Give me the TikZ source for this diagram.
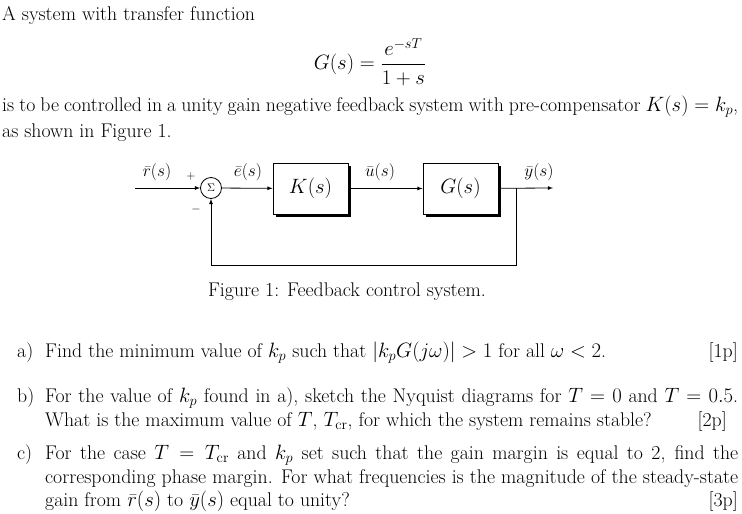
\documentclass[tikz,border=0pt]{standalone}
\usepackage{amsmath}
\newcommand{\lblsz}{\fontsize{19}{22}\selectfont}
\begin{document}
\begin{tikzpicture}[x=1pt,y=-1pt,
  txt/.style={anchor=base west,inner sep=0pt,font=\fontsize{19.8}{22}\selectfont},
  rtxt/.style={anchor=base east,inner sep=0pt,font=\fontsize{19.8}{22}\selectfont},
  blk/.style={draw,line width=0.9pt,fill=white,minimum width=75pt,minimum height=51pt,font=\fontsize{20}{22}\selectfont},
  shad/.style={fill=black,minimum width=75pt,minimum height=51pt,inner sep=0pt},
  sig/.style={line width=0.8pt,-latex},
  lbl/.style={inner sep=0pt,anchor=base}]
\useasboundingbox (0,0) rectangle (742,514);
\node[txt] (l1) at (2,20) {A system with transfer function};
\node[txt,anchor=center] (eq) at (370,62) {$G(s)=\dfrac{e^{-sT}}{1+s}$};
\node[txt] (l2) at (2,111) {\makebox[736pt][s]{is to be controlled in a unity gain negative feedback system with pre-compensator $K(s)=k_p$,}};
\node[txt] (l3) at (2,137) {as shown in Figure 1.};
% diagram
\node[shad] (ks) at (313.5,191.5) {};
\node[shad] (gs) at (463.5,191.5) {};
\node[blk] (K) at (310.5,188.5) {$K(s)$};
\node[blk] (G) at (460.5,188.5) {$G(s)$};
\node[draw,circle,line width=0.8pt,minimum size=21pt,inner sep=0pt,font=\fontsize{11}{12}\selectfont] (S) at (211,188) {$\Sigma$};
\coordinate (in) at (135,188);
\coordinate (out) at (553,188);
\coordinate (br) at (516,188);
\coordinate (c1) at (516,265);
\coordinate (c2) at (211,265);
\draw[sig] (in) -- (S);
\draw[sig] (S) -- (K);
\draw[sig] (K) -- (G);
\draw[sig] (G) -- (out);
\draw[sig] (br) -- (c1) -- (c2) -- (S);
\node[lbl] (r) at (157,176) {\lblsz$\bar r(s)$};
\node[lbl] (p) at (191,179) {\fontsize{12}{12}\selectfont$+$};
\node[lbl] (m) at (196,212) {\fontsize{12}{12}\selectfont$-$};
\node[lbl] (e) at (248,176) {\lblsz$\bar e(s)$};
\node[lbl] (u) at (380,176) {\lblsz$\bar u(s)$};
\node[lbl] (y) at (539,176) {\lblsz$\bar y(s)$};
\node[txt,anchor=center] (cap) at (347,292) {Figure 1: Feedback control system.};
% questions
\node[txt] (a) at (17,357) {a)};
\node[txt] (at) at (45,357) {Find the minimum value of $k_p$ such that $|k_pG(j\omega)|>1$ for all $\omega<2$.};
\node[rtxt] (ap) at (738,357) {[1p]};
\node[txt] (b) at (17,402) {b)};
\node[txt] (bt1) at (45,402) {\makebox[693pt][s]{For the value of $k_p$ found in a), sketch the Nyquist diagrams for $T=0$ and $T=0.5$.}};
\node[txt] (bt2) at (45,426) {What is the maximum value of $T$, $T_{\mathrm{cr}}$, for which the system remains stable?};
\node[rtxt] (bp) at (727,426) {[2p]};
\node[txt] (c) at (17,459) {c)};
\node[txt] (ct1) at (45,459) {\makebox[693pt][s]{For the case $T=T_{\mathrm{cr}}$ and $k_p$ set such that the gain margin is equal to 2, find the}};
\node[txt] (ct2) at (45,483) {\makebox[693pt][s]{corresponding phase margin. For what frequencies is the magnitude of the steady-state}};
\node[txt] (ct3) at (45,506) {gain from $\bar r(s)$ to $\bar y(s)$ equal to unity?};
\node[rtxt] (cp) at (738,506) {[3p]};
\end{tikzpicture}
\end{document}
